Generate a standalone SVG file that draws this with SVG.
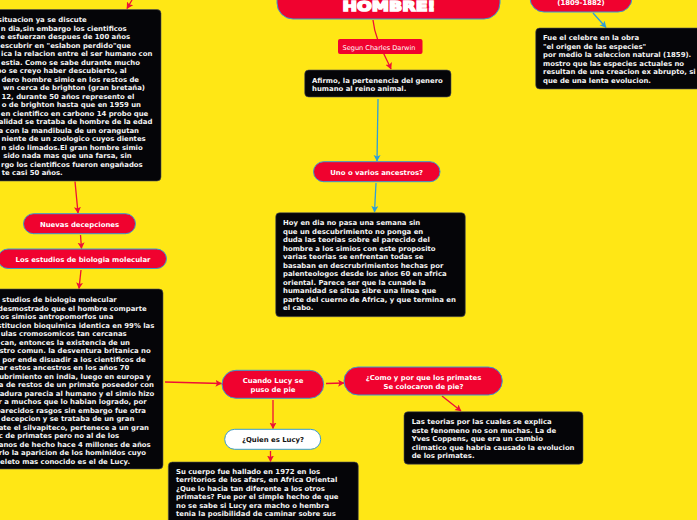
<svg xmlns="http://www.w3.org/2000/svg" width="697" height="520" viewBox="0 0 697 520">
<defs>
<marker id="ar" markerUnits="userSpaceOnUse" markerWidth="8" markerHeight="8" refX="6" refY="3.5" orient="auto"><path d="M0 0L6.500 3.500L0 7L1.500 3.500Z" fill="#ee0f36"/></marker>
<marker id="ab" markerUnits="userSpaceOnUse" markerWidth="8" markerHeight="8" refX="6" refY="3.500" orient="auto"><path d="M0 0L6.500 3.500L0 7L1.500 3.500Z" fill="#2f9ed8"/></marker>
</defs>
<style>
text{font-family:"DejaVu Sans",Verdana,sans-serif;font-size:6.900px;font-weight:700;fill:#f4f4f4}
.box{fill:#050508;stroke:#555;stroke-width:.6}
.pill{fill:#f0022f;stroke:#3a9bd0;stroke-width:1}
.w{fill:#fff}
.c{text-anchor:middle}
.e{text-anchor:end}
.r{fill:none;stroke:#ee0f36;stroke-width:1.3;marker-end:url(#ar)}
.b{fill:none;stroke:#2f9ed8;stroke-width:1.3;marker-end:url(#ab)}
</style>
<rect width="697" height="520" fill="#ffe715"/>
<g id="connectors">
<path class="r" d="M132 0L127 8.500"/>
<path class="r" d="M75 181.500L78 213"/>
<path class="r" d="M80.500 235L81.500 248.500"/>
<path class="r" d="M81 270L79 288.500"/>
<path class="r" d="M165 382L221.500 383.500"/>
<path class="r" d="M326 383.500L344 383"/>
<path class="r" d="M442 396L461 411"/>
<path class="r" d="M273 400L273 428.500"/>
<path class="r" d="M270.500 451L270.500 461.500"/>
<path class="r" d="M373 20C375 40 385 55 391 69"/>
<path class="b" d="M378 99L377 161"/>
<path class="b" d="M376 183L374.500 212"/>
<path class="b" d="M593 13L606 27.500"/>
</g>
<g id="n-main"><rect class="pill" x="277" y="-40" width="223" height="59" rx="16"/><text class="c w" x="389" y="10.500" textLength="93" lengthAdjust="spacingAndGlyphs" style="font-size:14px;font-weight:900;stroke:#fff;stroke-width:1.500">HOMBRE!</text></g>
<g id="n-segun"><rect x="338" y="39" width="84.500" height="15" rx="2" fill="#f0022f"/><text class="c w" x="379" y="49.500" style="font-weight:400;font-size:6.600px">Segun Charles Darwin</text></g>
<g id="n-afirmo"><rect class="box" x="304.700" y="70" width="146.300" height="27" rx="4"/><text x="312" y="82.500">Afirmo, la pertenencia del genero</text><text x="312" y="91">humano al reino animal.</text></g>
<g id="n-uno"><rect class="pill" x="313.500" y="161.700" width="126.500" height="20" rx="10"/><text class="c w" x="376.700" y="175">Uno o varios ancestros?</text></g>
<g id="n-hoy"><rect class="box" x="275.700" y="212.700" width="189.600" height="104" rx="4"/>
<text x="283" y="225">Hoy en dia no pasa una semana sin</text>
<text x="283" y="233.500">que un descubrimiento no ponga en</text>
<text x="283" y="242">duda las teorias sobre el parecido del</text>
<text x="283" y="250.500">hombre a los simios con este proposito</text>
<text x="283" y="259">varias teorias se enfrentan todas se</text>
<text x="283" y="267.500">basaban en descrubrimientos hechas por</text>
<text x="283" y="276">palenteologos desde los años 60 en africa</text>
<text x="283" y="284.500">oriental. Parece ser que la cunade la</text>
<text x="283" y="293">humanidad se situa sibre una linea que</text>
<text x="283" y="301.500">parte del cuerno de Africa, y que termina en</text>
<text x="283" y="310">el cabo.</text></g>
<g id="n-darwin"><rect class="pill" x="530" y="-30" width="102" height="42" rx="14"/><text class="c w" x="581" y="5">(1809-1882)</text></g>
<g id="n-fue"><rect class="box" x="535.700" y="28" width="175" height="61" rx="4"/>
<text x="543" y="40">Fue el celebre en la obra</text>
<text x="543" y="48.500">"el origen de las especies"</text>
<text x="543" y="57">por medio la seleccion natural (1859).</text>
<text x="543" y="65.500">mostro que las especies actuales no</text>
<text x="543" y="74">resultan de una creacion ex abrupto, si</text>
<text x="543" y="82.500">que de una lenta evolucion.</text></g>
<g id="n-esta"><rect class="box" x="-20" y="9.500" width="181" height="171.500" rx="4"/>
<text class="e" x="86.700" y="22">situacion ya se discute</text>
<text class="e" x="126.700" y="30.500">n dia,sin embargo los cientificos</text>
<text class="e" x="130" y="39">e esfuerzan despues de 100 años</text>
<text class="e" x="131" y="47.500">escubrir en "eslabon perdido"que</text>
<text class="e" x="152.300" y="56">ica la relacion entre el ser humano con</text>
<text class="e" x="140" y="64.500">estia. Como se sabe durante mucho</text>
<text class="e" x="126.700" y="73">po se creyo haber descubierto, al</text>
<text class="e" x="139" y="81.500">dero hombre simio en los restos de</text>
<text class="e" x="145" y="90">wn cerca de brighton (gran bretaña)</text>
<text class="e" x="134.300" y="98.500">12, durante 50 años represento el</text>
<text class="e" x="141" y="107">o de brighton hasta que en 1959 un</text>
<text class="e" x="148.300" y="115.500">en cientifico en carbono 14 probo que</text>
<text class="e" x="152.300" y="124">alidad se trataba de hombre de la edad</text>
<text class="e" x="139" y="132.500">a con la mandibula de un orangutan</text>
<text class="e" x="145.700" y="141">niente de un zoologico cuyos dientes</text>
<text class="e" x="142.700" y="149.500">n sido limados.El gran hombre simio</text>
<text class="e" x="131.700" y="158">sido nada mas que una farsa, sin</text>
<text class="e" x="142.700" y="166.500">rgo los cientificos fueron engañados</text>
<text class="e" x="62.700" y="175">te casi 50 años.</text></g>
<g id="n-nuevas"><rect class="pill" x="23.500" y="213.700" width="112" height="20" rx="10"/><text class="c w" x="79.500" y="227">Nuevas decepciones</text></g>
<g id="n-estudios"><rect class="pill" x="-2" y="249" width="168.500" height="19.500" rx="10"/><text class="c w" x="83" y="262">Los estudios de biologia molecular</text></g>
<g id="n-biologia"><rect class="box" x="-20" y="289" width="183" height="180" rx="4"/>
<text class="e" x="116.700" y="302">studios de biologia molecular</text>
<text class="e" x="146.700" y="310.500">desmostrado que el hombre comparte</text>
<text class="e" x="113.300" y="319">os simios antropomorfos una</text>
<text class="e" x="154.300" y="327.500">stitucion bioquimica identica en 99% las</text>
<text class="e" x="126.700" y="336">ulas cromosomicos tan cercanas</text>
<text class="e" x="130" y="344.500">can, entonces la existencia de un</text>
<text class="e" x="150.700" y="353">stro comun. la desventura britanica no</text>
<text class="e" x="145.700" y="361.500">por ende disuadir a los cientificos de</text>
<text class="e" x="129.300" y="370">ar estos ancestros en los años 70</text>
<text class="e" x="150.700" y="378.500">ubrimiento en india, luego en europa y</text>
<text class="e" x="154" y="387">a de restos de un primate poseedor con</text>
<text class="e" x="154.300" y="395.500">adura parecia al humano y el simio hizo</text>
<text class="e" x="146.700" y="404">r a muchos que lo habian logrado, por</text>
<text class="e" x="146" y="412.500">parecidos rasgos sin embargo fue otra</text>
<text class="e" x="134.300" y="421">decepcion y se trataba de un gran</text>
<text class="e" x="149" y="429.500">ate el silvapiteco, pertenece a un gran</text>
<text class="e" x="119" y="438">c de primates pero no al de los</text>
<text class="e" x="150.700" y="446.500">anos de hecho hace 4 millones de años</text>
<text class="e" x="146" y="455">rlo la aparicion de los hominidos cuyo</text>
<text class="e" x="130" y="463.500">eleto mas conocido es el de Lucy.</text></g>
<g id="n-cuando"><rect class="pill" x="222" y="370.300" width="101.700" height="28" rx="14"/><text class="c w" x="273" y="383">Cuando Lucy se</text><text class="c w" x="273" y="392">puso de pie</text></g>
<g id="n-como"><rect class="pill" x="344" y="367" width="158.300" height="28" rx="14"/><text class="c w" x="423.500" y="380">¿Como y por que los primates</text><text class="c w" x="423.500" y="389">Se colocaron de pie?</text></g>
<g id="n-teorias"><rect class="box" x="404" y="411.700" width="179" height="52.500" rx="4"/>
<text x="411.700" y="424">Las teorias por las cuales se explica</text>
<text x="411.700" y="432.500">este fenomeno no son muchas. La de</text>
<text x="411.700" y="441">Yves Coppens, que era un cambio</text>
<text x="411.700" y="449.500">climatico que habria causado la evolucion</text>
<text x="411.700" y="458">de los primates.</text></g>
<g id="n-quien"><rect x="224.700" y="429.300" width="96" height="20" rx="10" fill="#fff" stroke="#3a9bd0"/><text class="c" x="273" y="442" style="fill:#111">¿Quien es Lucy?</text></g>
<g id="n-su"><rect class="box" x="168.300" y="462" width="190" height="80" rx="4"/>
<text x="176" y="473.500">Su cuerpo fue hallado en 1972 en los</text>
<text x="176" y="482">territorios de los afars, en Africa Oriental</text>
<text x="176" y="490.500">¿Que lo hacia tan diferente a los otros</text>
<text x="176" y="499">primates? Fue por el simple hecho de que</text>
<text x="176" y="507.500">no se sabe si Lucy era macho o hembra</text>
<text x="176" y="516">tenia la posibilidad de caminar sobre sus</text></g>
</svg>
